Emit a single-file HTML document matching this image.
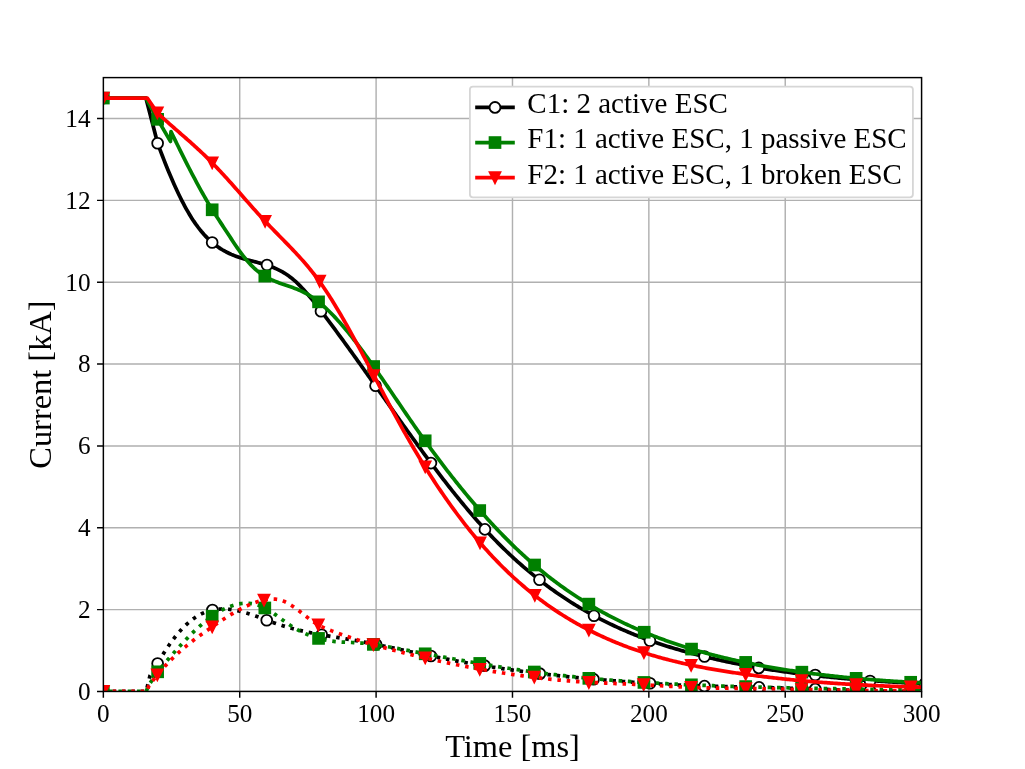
<!DOCTYPE html><html><head><meta charset="utf-8"><title>Current vs Time</title><style>html,body{margin:0;padding:0;background:#fff;overflow:hidden;width:1025px;height:769px;}svg{display:block;}text{font-family:"Liberation Serif","Times New Roman",serif;}</style></head><body>
<svg width="1025" height="769" viewBox="0 0 1025 769">
<rect x="0" y="0" width="1025" height="769" fill="#fff"/>
<defs><clipPath id="ax"><rect x="103.35" y="77.60" width="818.25" height="613.85"/></clipPath></defs>
<path d="M103.35,77.60V691.45M239.72,77.60V691.45M376.10,77.60V691.45M512.48,77.60V691.45M648.85,77.60V691.45M785.23,77.60V691.45M921.60,77.60V691.45M103.35,691.45H921.60M103.35,609.60H921.60M103.35,527.76H921.60M103.35,445.91H921.60M103.35,364.06H921.60M103.35,282.22H921.60M103.35,200.37H921.60M103.35,118.52H921.60" stroke="#b0b0b0" stroke-width="1.45" fill="none" stroke-linecap="square" clip-path="url(#ax)"/>
<g clip-path="url(#ax)">
<path d="M103.35,98.06L145.90,98.06L157.63,143.25L159.13,147.32L160.64,151.33L162.14,155.28L163.64,159.17L165.15,162.99L166.65,166.75L168.16,170.44L169.66,174.05L171.17,177.60L172.67,181.07L174.18,184.47L175.68,187.79L177.18,191.04L178.69,194.20L180.19,197.29L181.70,200.29L183.20,203.21L184.71,206.05L186.21,208.79L187.72,211.45L189.22,214.02L190.72,216.50L192.23,218.88L193.73,221.18L195.24,223.37L196.74,225.48L198.25,227.50L199.75,229.44L201.25,231.29L202.76,233.06L204.26,234.75L205.77,236.37L207.27,237.91L208.78,239.38L210.28,240.78L211.79,242.11L213.29,243.38L214.79,244.58L216.30,245.73L217.80,246.82L219.31,247.85L220.81,248.83L222.32,249.76L223.82,250.63L225.33,251.47L226.83,252.26L228.33,253.00L229.84,253.71L231.34,254.38L232.85,255.01L234.35,255.61L235.86,256.18L237.36,256.73L238.87,257.25L240.37,257.74L241.87,258.21L243.38,258.67L244.88,259.10L246.39,259.53L247.89,259.94L249.40,260.34L250.90,260.73L252.40,261.13L253.91,261.52L255.41,261.91L256.92,262.30L258.42,262.70L259.93,263.11L261.43,263.53L262.94,263.96L264.44,264.41L265.94,264.88L267.45,265.36L268.95,265.88L270.46,266.41L271.96,266.98L273.47,267.58L274.97,268.21L276.48,268.87L277.98,269.58L279.48,270.33L280.99,271.12L282.49,271.95L284.00,272.84L285.50,273.77L287.01,274.76L288.51,275.81L290.01,276.91L291.52,278.07L293.02,279.30L294.53,280.60L296.03,281.95L297.54,283.37L299.04,284.85L300.55,286.38L302.05,287.96L303.55,289.59L305.06,291.26L306.56,292.98L308.07,294.73L309.57,296.52L311.08,298.34L312.58,300.19L314.09,302.07L315.59,303.97L317.09,305.89L318.60,307.82L320.10,309.77L321.61,311.74L323.11,313.70L324.62,315.68L326.12,317.67L327.62,319.66L329.13,321.66L330.63,323.67L332.14,325.68L333.64,327.70L335.15,329.73L336.65,331.77L338.16,333.81L339.66,335.86L341.16,337.91L342.67,339.97L344.17,342.03L345.68,344.10L347.18,346.18L348.69,348.25L350.19,350.34L351.70,352.43L353.20,354.52L354.70,356.61L356.21,358.71L357.71,360.82L359.22,362.92L360.72,365.03L362.23,367.15L363.73,369.26L365.23,371.38L366.74,373.50L368.24,375.62L369.75,377.74L371.25,379.87L372.76,381.99L374.26,384.12L375.77,386.25L377.27,388.38L378.77,390.51L380.28,392.64L381.78,394.77L383.29,396.90L384.79,399.02L386.30,401.15L387.80,403.28L389.31,405.41L390.81,407.53L392.31,409.65L393.82,411.78L395.32,413.90L396.83,416.01L398.33,418.13L399.84,420.24L401.34,422.35L402.85,424.46L404.35,426.56L405.85,428.66L407.36,430.76L408.86,432.86L410.37,434.94L411.87,437.03L413.38,439.11L414.88,441.19L416.38,443.26L417.89,445.33L419.39,447.39L420.90,449.44L422.40,451.50L423.91,453.54L425.41,455.58L426.92,457.61L428.42,459.64L429.92,461.66L431.43,463.67L432.93,465.68L434.44,467.68L435.94,469.67L437.45,471.66L438.95,473.63L440.46,475.60L441.96,477.56L443.46,479.51L444.97,481.46L446.47,483.39L447.98,485.32L449.48,487.24L450.99,489.14L452.49,491.04L453.99,492.93L455.50,494.81L457.00,496.68L458.51,498.54L460.01,500.38L461.52,502.22L463.02,504.05L464.53,505.86L466.03,507.66L467.53,509.46L469.04,511.24L470.54,513.00L472.05,514.76L473.55,516.50L475.06,518.24L476.56,519.95L478.07,521.66L479.57,523.35L481.07,525.03L482.58,526.70L484.08,528.35L485.59,529.99L487.09,531.61L488.60,533.22L490.10,534.82L491.60,536.40L493.11,537.97L494.61,539.52L496.12,541.06L497.62,542.59L499.13,544.10L500.63,545.61L502.14,547.09L503.64,548.57L505.14,550.03L506.65,551.48L508.15,552.91L509.66,554.33L511.16,555.74L512.67,557.14L514.17,558.53L515.68,559.90L517.18,561.26L518.68,562.60L520.19,563.94L521.69,565.26L523.20,566.57L524.70,567.86L526.21,569.15L527.71,570.42L529.21,571.68L530.72,572.93L532.22,574.17L533.73,575.40L535.23,576.61L536.74,577.81L538.24,579.01L539.75,580.19L541.25,581.35L542.75,582.51L544.26,583.66L545.76,584.79L547.27,585.91L548.77,587.03L550.28,588.13L551.78,589.22L553.29,590.30L554.79,591.37L556.29,592.43L557.80,593.48L559.30,594.51L560.81,595.54L562.31,596.56L563.82,597.57L565.32,598.56L566.82,599.55L568.33,600.52L569.83,601.49L571.34,602.45L572.84,603.39L574.35,604.33L575.85,605.26L577.36,606.18L578.86,607.08L580.36,607.98L581.87,608.87L583.37,609.75L584.88,610.62L586.38,611.49L587.89,612.34L589.39,613.18L590.90,614.02L592.40,614.84L593.90,615.66L595.41,616.47L596.91,617.27L598.42,618.06L599.92,618.84L601.43,619.61L602.93,620.38L604.44,621.14L605.94,621.89L607.44,622.63L608.95,623.36L610.45,624.09L611.96,624.80L613.46,625.51L614.97,626.21L616.47,626.91L617.97,627.59L619.48,628.27L620.98,628.94L622.49,629.60L623.99,630.26L625.50,630.91L627.00,631.55L628.51,632.19L630.01,632.81L631.51,633.43L633.02,634.05L634.52,634.65L636.03,635.25L637.53,635.85L639.04,636.43L640.54,637.01L642.05,637.59L643.55,638.15L645.05,638.72L646.56,639.27L648.06,639.82L649.57,640.36L651.07,640.90L652.58,641.43L654.08,641.95L655.58,642.47L657.09,642.98L658.59,643.49L660.10,643.99L661.60,644.49L663.11,644.98L664.61,645.46L666.12,645.94L667.62,646.41L669.12,646.88L670.63,647.35L672.13,647.81L673.64,648.26L675.14,648.71L676.65,649.15L678.15,649.59L679.66,650.03L681.16,650.46L682.66,650.89L684.17,651.31L685.67,651.72L687.18,652.14L688.68,652.54L690.19,652.95L691.69,653.35L693.19,653.74L694.70,654.14L696.20,654.53L697.71,654.91L699.21,655.29L700.72,655.67L702.22,656.04L703.73,656.41L705.23,656.78L706.73,657.14L708.24,657.50L709.74,657.86L711.25,658.21L712.75,658.56L714.26,658.91L715.76,659.25L717.27,659.59L718.77,659.92L720.27,660.26L721.78,660.59L723.28,660.91L724.79,661.24L726.29,661.56L727.80,661.88L729.30,662.19L730.80,662.50L732.31,662.81L733.81,663.12L735.32,663.42L736.82,663.72L738.33,664.01L739.83,664.31L741.34,664.60L742.84,664.88L744.34,665.17L745.85,665.45L747.35,665.73L748.86,666.00L750.36,666.28L751.87,666.55L753.37,666.81L754.88,667.08L756.38,667.34L757.88,667.60L759.39,667.85L760.89,668.11L762.40,668.36L763.90,668.61L765.41,668.85L766.91,669.09L768.42,669.33L769.92,669.57L771.42,669.81L772.93,670.04L774.43,670.27L775.94,670.50L777.44,670.72L778.95,670.94L780.45,671.16L781.95,671.38L783.46,671.60L784.96,671.81L786.47,672.02L787.97,672.23L789.48,672.43L790.98,672.64L792.49,672.84L793.99,673.04L795.49,673.23L797.00,673.43L798.50,673.62L800.01,673.81L801.51,674.00L803.02,674.18L804.52,674.36L806.03,674.55L807.53,674.72L809.03,674.90L810.54,675.08L812.04,675.25L813.55,675.42L815.05,675.59L816.56,675.75L818.06,675.92L819.56,676.08L821.07,676.24L822.57,676.40L824.08,676.56L825.58,676.71L827.09,676.87L828.59,677.02L830.10,677.17L831.60,677.31L833.10,677.46L834.61,677.60L836.11,677.75L837.62,677.89L839.12,678.03L840.63,678.16L842.13,678.30L843.64,678.43L845.14,678.57L846.64,678.70L848.15,678.83L849.65,678.95L851.16,679.08L852.66,679.20L854.17,679.33L855.67,679.45L857.17,679.57L858.68,679.69L860.18,679.80L861.69,679.92L863.19,680.03L864.70,680.14L866.20,680.26L867.71,680.37L869.21,680.47L870.71,680.58L872.22,680.69L873.72,680.79L875.23,680.90L876.73,681.00L878.24,681.10L879.74,681.20L881.25,681.30L882.75,681.40L884.25,681.49L885.76,681.59L887.26,681.68L888.77,681.78L890.27,681.87L891.78,681.96L893.28,682.05L894.78,682.14L896.29,682.23L897.79,682.31L899.30,682.40L900.80,682.48L902.31,682.57L903.81,682.65L905.32,682.73L906.82,682.82L908.32,682.90L909.83,682.98L911.33,683.06L912.84,683.13L914.34,683.21L915.85,683.29L917.35,683.37L918.86,683.44L920.36,683.52L921.86,683.59L923.37,683.66L924.87,683.74" fill="none" stroke="#000000" stroke-width="3.72" stroke-linejoin="round" stroke-linecap="square"/>
<g fill="#fff" stroke="#000000" stroke-width="1.81"><circle cx="103.35" cy="98.06" r="5.43"/><circle cx="157.63" cy="143.28" r="5.43"/><circle cx="212.18" cy="242.52" r="5.43"/><circle cx="267.00" cy="265.03" r="5.43"/><circle cx="321.00" cy="311.27" r="5.43"/><circle cx="375.55" cy="385.75" r="5.43"/><circle cx="430.92" cy="463.10" r="5.43"/><circle cx="484.93" cy="529.39" r="5.43"/><circle cx="539.48" cy="579.73" r="5.43"/><circle cx="594.03" cy="615.74" r="5.43"/><circle cx="649.94" cy="640.71" r="5.43"/><circle cx="704.49" cy="656.50" r="5.43"/><circle cx="758.77" cy="667.92" r="5.43"/><circle cx="815.23" cy="675.08" r="5.43"/><circle cx="870.05" cy="681.01" r="5.43"/><circle cx="924.87" cy="683.67" r="5.43"/></g>
<path d="M103.35,691.45L146.17,691.45L149.99,675.69L157.63,663.52L159.13,660.88L160.64,658.30L162.14,655.79L163.65,653.35L165.16,650.97L166.66,648.66L168.17,646.42L169.67,644.24L171.18,642.13L172.68,640.09L174.19,638.11L175.70,636.20L177.20,634.35L178.71,632.57L180.21,630.86L181.72,629.22L183.22,627.64L184.73,626.13L186.24,624.69L187.74,623.31L189.25,622.00L190.75,620.76L192.26,619.58L193.76,618.47L195.27,617.43L196.78,616.46L198.28,615.55L199.79,614.71L201.29,613.93L202.80,613.22L204.30,612.57L205.81,611.98L207.32,611.44L208.82,610.96L210.33,610.54L211.83,610.17L213.34,609.86L214.84,609.59L216.35,609.38L217.86,609.21L219.36,609.09L220.87,609.01L222.37,608.97L223.88,608.98L225.39,609.03L226.89,609.11L228.40,609.23L229.90,609.39L231.41,609.58L232.91,609.80L234.42,610.06L235.93,610.34L237.43,610.65L238.94,610.99L240.44,611.35L241.95,611.73L243.45,612.14L244.96,612.57L246.47,613.01L247.97,613.48L249.48,613.95L250.98,614.45L252.49,614.95L253.99,615.47L255.50,616.00L257.01,616.54L258.51,617.08L260.02,617.63L261.52,618.19L263.03,618.75L264.53,619.31L266.04,619.87L267.55,620.43L269.05,620.99L270.56,621.54L272.06,622.09L273.57,622.63L275.07,623.17L276.58,623.69L278.09,624.21L279.59,624.71L281.10,625.20L282.60,625.68L284.11,626.15L285.61,626.60L287.12,627.05L288.63,627.48L290.13,627.90L291.64,628.31L293.14,628.71L294.65,629.10L296.15,629.48L297.66,629.86L299.17,630.22L300.67,630.57L302.18,630.92L303.68,631.26L305.19,631.59L306.69,631.91L308.20,632.23L309.71,632.54L311.21,632.84L312.72,633.14L314.22,633.43L315.73,633.72L317.23,634.00L318.74,634.27L320.25,634.55L321.75,634.82L323.26,635.08L324.76,635.34L326.27,635.60L327.77,635.86L329.28,636.11L330.79,636.36L332.29,636.61L333.80,636.86L335.30,637.11L336.81,637.36L338.31,637.60L339.82,637.85L341.33,638.10L342.83,638.34L344.34,638.59L345.84,638.84L347.35,639.10L348.85,639.35L350.36,639.60L351.87,639.86L353.37,640.12L354.88,640.39L356.38,640.66L357.89,640.93L359.39,641.20L360.90,641.48L362.41,641.76L363.91,642.05L365.42,642.33L366.92,642.62L368.43,642.91L369.94,643.21L371.44,643.50L372.95,643.80L374.45,644.10L375.96,644.40L377.46,644.71L378.97,645.02L380.48,645.32L381.98,645.63L383.49,645.95L384.99,646.26L386.50,646.57L388.00,646.89L389.51,647.20L391.02,647.52L392.52,647.84L394.03,648.16L395.53,648.48L397.04,648.80L398.54,649.12L400.05,649.45L401.56,649.77L403.06,650.09L404.57,650.41L406.07,650.73L407.58,651.06L409.08,651.38L410.59,651.70L412.10,652.02L413.60,652.34L415.11,652.67L416.61,652.98L418.12,653.30L419.62,653.62L421.13,653.94L422.64,654.26L424.14,654.57L425.65,654.88L427.15,655.20L428.66,655.51L430.16,655.82L431.67,656.12L433.18,656.43L434.68,656.73L436.19,657.04L437.69,657.34L439.20,657.64L440.70,657.93L442.21,658.23L443.72,658.52L445.22,658.81L446.73,659.10L448.23,659.39L449.74,659.68L451.24,659.96L452.75,660.25L454.26,660.53L455.76,660.81L457.27,661.08L458.77,661.36L460.28,661.63L461.78,661.91L463.29,662.18L464.80,662.45L466.30,662.71L467.81,662.98L469.31,663.24L470.82,663.51L472.32,663.77L473.83,664.02L475.34,664.28L476.84,664.54L478.35,664.79L479.85,665.04L481.36,665.29L482.86,665.54L484.37,665.78L485.88,666.03L487.38,666.27L488.89,666.51L490.39,666.75L491.90,666.99L493.40,667.22L494.91,667.46L496.42,667.69L497.92,667.92L499.43,668.15L500.93,668.38L502.44,668.60L503.95,668.82L505.45,669.05L506.96,669.27L508.46,669.48L509.97,669.70L511.47,669.91L512.98,670.13L514.49,670.34L515.99,670.55L517.50,670.75L519.00,670.96L520.51,671.16L522.01,671.37L523.52,671.57L525.03,671.76L526.53,671.96L528.04,672.16L529.54,672.35L531.05,672.54L532.55,672.73L534.06,672.92L535.57,673.11L537.07,673.29L538.58,673.47L540.08,673.66L541.59,673.84L543.09,674.01L544.60,674.19L546.11,674.37L547.61,674.54L549.12,674.71L550.62,674.88L552.13,675.05L553.63,675.22L555.14,675.39L556.65,675.55L558.15,675.71L559.66,675.87L561.16,676.04L562.67,676.19L564.17,676.35L565.68,676.51L567.19,676.66L568.69,676.81L570.20,676.97L571.70,677.12L573.21,677.26L574.71,677.41L576.22,677.56L577.73,677.70L579.23,677.85L580.74,677.99L582.24,678.13L583.75,678.27L585.25,678.41L586.76,678.54L588.27,678.68L589.77,678.82L591.28,678.95L592.78,679.08L594.29,679.21L595.79,679.34L597.30,679.47L598.81,679.60L600.31,679.72L601.82,679.85L603.32,679.97L604.83,680.10L606.33,680.22L607.84,680.34L609.35,680.46L610.85,680.58L612.36,680.70L613.86,680.81L615.37,680.93L616.87,681.04L618.38,681.16L619.89,681.27L621.39,681.38L622.90,681.49L624.40,681.60L625.91,681.71L627.41,681.82L628.92,681.93L630.43,682.03L631.93,682.14L633.44,682.24L634.94,682.35L636.45,682.45L637.95,682.55L639.46,682.65L640.97,682.75L642.47,682.85L643.98,682.95L645.48,683.05L646.99,683.14L648.50,683.24L650.00,683.34L651.51,683.43L653.01,683.53L654.52,683.62L656.02,683.71L657.53,683.80L659.04,683.90L660.54,683.99L662.05,684.07L663.55,684.16L665.06,684.25L666.56,684.34L668.07,684.42L669.58,684.51L671.08,684.59L672.59,684.67L674.09,684.75L675.60,684.83L677.10,684.91L678.61,684.99L680.12,685.06L681.62,685.14L683.13,685.21L684.63,685.28L686.14,685.35L687.64,685.42L689.15,685.49L690.66,685.56L692.16,685.62L693.67,685.69L695.17,685.75L696.68,685.81L698.18,685.87L699.69,685.92L701.20,685.98L702.70,686.03L704.21,686.08L705.71,686.13L707.22,686.18L708.72,686.23L710.23,686.28L711.74,686.32L713.24,686.36L714.75,686.40L716.25,686.44L717.76,686.48L719.26,686.52L720.77,686.56L722.28,686.59L723.78,686.63L725.29,686.66L726.79,686.70L728.30,686.73L729.80,686.76L731.31,686.79L732.82,686.82L734.32,686.85L735.83,686.89L737.33,686.92L738.84,686.95L740.34,686.98L741.85,687.01L743.36,687.04L744.86,687.07L746.37,687.10L747.87,687.13L749.38,687.16L750.88,687.19L752.39,687.22L753.90,687.25L755.40,687.29L756.91,687.32L758.41,687.35L759.92,687.39L761.42,687.43L762.93,687.46L764.44,687.50L765.94,687.54L767.45,687.58L768.95,687.62L770.46,687.66L771.96,687.70L773.47,687.74L774.98,687.79L776.48,687.83L777.99,687.87L779.49,687.92L781.00,687.96L782.50,688.01L784.01,688.05L785.52,688.10L787.02,688.15L788.53,688.20L790.03,688.24L791.54,688.29L793.05,688.34L794.55,688.39L796.06,688.44L797.56,688.49L799.07,688.54L800.57,688.59L802.08,688.63L803.59,688.68L805.09,688.73L806.60,688.78L808.10,688.84L809.61,688.89L811.11,688.94L812.62,688.99L814.13,689.04L815.63,689.09L817.14,689.14L818.64,689.19L820.15,689.24L821.65,689.29L823.16,689.34L824.67,689.39L826.17,689.43L827.68,689.48L829.18,689.53L830.69,689.58L832.19,689.63L833.70,689.68L835.21,689.73L836.71,689.77L838.22,689.82L839.72,689.87L841.23,689.91L842.73,689.96L844.24,690.01L845.75,690.05L847.25,690.10L848.76,690.14L850.26,690.18L851.77,690.23L853.27,690.27L854.78,690.31L856.29,690.36L857.79,690.40L859.30,690.44L860.80,690.48L862.31,690.52L863.81,690.56L865.32,690.60L866.83,690.63L868.33,690.67L869.84,690.71L871.34,690.75L872.85,690.78L874.35,690.82L875.86,690.85L877.37,690.88L878.87,690.91L880.38,690.95L881.88,690.98L883.39,691.01L884.89,691.04L886.40,691.07L887.91,691.09L889.41,691.12L890.92,691.14L892.42,691.17L893.93,691.19L895.43,691.22L896.94,691.24L898.45,691.26L899.95,691.28L901.46,691.30L902.96,691.32L904.47,691.33L905.97,691.35L907.48,691.36L908.99,691.38L910.49,691.39L912.00,691.40L913.50,691.41L915.01,691.42L916.51,691.43L918.02,691.44L919.53,691.44L921.03,691.45L922.54,691.45L924.04,691.45L925.55,691.45L927.06,691.45" fill="none" stroke="#000000" stroke-width="3.72" stroke-dasharray="3.52 5.81" stroke-dashoffset="0.00" stroke-linejoin="round" stroke-linecap="butt"/>
<g fill="#fff" stroke="#000000" stroke-width="1.81"><circle cx="103.35" cy="691.45" r="5.43"/><circle cx="157.63" cy="663.50" r="5.43"/><circle cx="212.45" cy="610.01" r="5.43"/><circle cx="266.73" cy="620.24" r="5.43"/><circle cx="321.69" cy="634.77" r="5.43"/><circle cx="376.10" cy="644.39" r="5.43"/><circle cx="430.92" cy="656.01" r="5.43"/><circle cx="484.65" cy="665.67" r="5.43"/><circle cx="539.89" cy="673.65" r="5.43"/><circle cx="593.48" cy="679.17" r="5.43"/><circle cx="649.94" cy="683.27" r="5.43"/><circle cx="704.49" cy="686.13" r="5.43"/><circle cx="759.04" cy="687.36" r="5.43"/><circle cx="815.23" cy="689.08" r="5.43"/><circle cx="870.05" cy="690.71" r="5.43"/><circle cx="924.87" cy="691.45" r="5.43"/></g>
<path d="M103.35,98.06L145.90,98.06L157.63,119.34L170.45,141.44L170.99,131.64L172.50,134.74L174.00,137.83L175.50,140.92L177.00,143.99L178.51,147.05L180.01,150.09L181.51,153.12L183.02,156.13L184.52,159.13L186.02,162.11L187.53,165.06L189.03,168.00L190.53,170.91L192.04,173.80L193.54,176.66L195.04,179.49L196.54,182.30L198.05,185.08L199.55,187.83L201.05,190.55L202.56,193.23L204.06,195.88L205.56,198.50L207.07,201.07L208.57,203.61L210.07,206.11L211.58,208.57L213.08,210.99L214.58,213.37L216.09,215.72L217.59,218.04L219.09,220.34L220.59,222.62L222.10,224.90L223.60,227.17L225.10,229.45L226.61,231.73L228.11,234.03L229.61,236.33L231.12,238.64L232.62,240.93L234.12,243.21L235.63,245.45L237.13,247.65L238.63,249.80L240.13,251.88L241.64,253.91L243.14,255.87L244.64,257.76L246.15,259.59L247.65,261.34L249.15,263.03L250.66,264.64L252.16,266.18L253.66,267.64L255.17,269.02L256.67,270.32L258.17,271.54L259.68,272.70L261.18,273.79L262.68,274.81L264.18,275.77L265.69,276.68L267.19,277.53L268.69,278.33L270.20,279.09L271.70,279.81L273.20,280.49L274.71,281.14L276.21,281.75L277.71,282.34L279.22,282.91L280.72,283.46L282.22,283.99L283.73,284.51L285.23,285.02L286.73,285.53L288.23,286.04L289.74,286.56L291.24,287.08L292.74,287.61L294.25,288.16L295.75,288.72L297.25,289.31L298.76,289.93L300.26,290.57L301.76,291.25L303.27,291.97L304.77,292.73L306.27,293.53L307.77,294.38L309.28,295.28L310.78,296.23L312.28,297.22L313.79,298.26L315.29,299.35L316.79,300.48L318.30,301.65L319.80,302.87L321.30,304.12L322.81,305.42L324.31,306.76L325.81,308.13L327.32,309.54L328.82,310.99L330.32,312.47L331.82,313.99L333.33,315.54L334.83,317.12L336.33,318.74L337.84,320.39L339.34,322.06L340.84,323.76L342.35,325.50L343.85,327.25L345.35,329.04L346.86,330.85L348.36,332.68L349.86,334.54L351.36,336.42L352.87,338.32L354.37,340.24L355.87,342.19L357.38,344.15L358.88,346.13L360.38,348.13L361.89,350.15L363.39,352.18L364.89,354.24L366.40,356.30L367.90,358.38L369.40,360.48L370.91,362.58L372.41,364.70L373.91,366.83L375.41,368.97L376.92,371.13L378.42,373.29L379.92,375.46L381.43,377.63L382.93,379.82L384.43,382.01L385.94,384.20L387.44,386.40L388.94,388.61L390.45,390.81L391.95,393.02L393.45,395.24L394.95,397.45L396.46,399.66L397.96,401.87L399.46,404.08L400.97,406.29L402.47,408.50L403.97,410.70L405.48,412.90L406.98,415.09L408.48,417.28L409.99,419.46L411.49,421.64L412.99,423.80L414.50,425.96L416.00,428.11L417.50,430.24L419.00,432.37L420.51,434.49L422.01,436.61L423.51,438.71L425.02,440.80L426.52,442.88L428.02,444.96L429.53,447.02L431.03,449.08L432.53,451.12L434.04,453.16L435.54,455.18L437.04,457.20L438.55,459.20L440.05,461.20L441.55,463.19L443.05,465.16L444.56,467.13L446.06,469.09L447.56,471.03L449.07,472.97L450.57,474.90L452.07,476.81L453.58,478.72L455.08,480.62L456.58,482.50L458.09,484.38L459.59,486.24L461.09,488.10L462.59,489.94L464.10,491.78L465.60,493.60L467.10,495.41L468.61,497.21L470.11,499.01L471.61,500.79L473.12,502.56L474.62,504.31L476.12,506.06L477.63,507.80L479.13,509.53L480.63,511.24L482.14,512.94L483.64,514.64L485.14,516.32L486.64,517.99L488.15,519.65L489.65,521.30L491.15,522.93L492.66,524.56L494.16,526.17L495.66,527.78L497.17,529.37L498.67,530.95L500.17,532.51L501.68,534.07L503.18,535.61L504.68,537.15L506.18,538.67L507.69,540.18L509.19,541.67L510.69,543.16L512.20,544.63L513.70,546.09L515.20,547.54L516.71,548.98L518.21,550.41L519.71,551.82L521.22,553.22L522.72,554.61L524.22,555.98L525.73,557.35L527.23,558.70L528.73,560.04L530.23,561.36L531.74,562.68L533.24,563.98L534.74,565.27L536.25,566.54L537.75,567.81L539.25,569.06L540.76,570.30L542.26,571.53L543.76,572.75L545.27,573.96L546.77,575.15L548.27,576.34L549.78,577.51L551.28,578.67L552.78,579.82L554.28,580.96L555.79,582.08L557.29,583.20L558.79,584.30L560.30,585.40L561.80,586.48L563.30,587.56L564.81,588.62L566.31,589.67L567.81,590.72L569.32,591.75L570.82,592.77L572.32,593.78L573.82,594.78L575.33,595.78L576.83,596.76L578.33,597.73L579.84,598.69L581.34,599.65L582.84,600.59L584.35,601.53L585.85,602.45L587.35,603.37L588.86,604.28L590.36,605.17L591.86,606.06L593.37,606.95L594.87,607.82L596.37,608.68L597.87,609.53L599.38,610.38L600.88,611.22L602.38,612.05L603.89,612.87L605.39,613.68L606.89,614.49L608.40,615.29L609.90,616.08L611.40,616.86L612.91,617.63L614.41,618.40L615.91,619.16L617.41,619.91L618.92,620.65L620.42,621.39L621.92,622.12L623.43,622.84L624.93,623.56L626.43,624.27L627.94,624.97L629.44,625.66L630.94,626.35L632.45,627.03L633.95,627.71L635.45,628.37L636.96,629.04L638.46,629.69L639.96,630.34L641.46,630.98L642.97,631.61L644.47,632.24L645.97,632.87L647.48,633.48L648.98,634.09L650.48,634.70L651.99,635.29L653.49,635.88L654.99,636.47L656.50,637.05L658.00,637.62L659.50,638.19L661.00,638.75L662.51,639.31L664.01,639.86L665.51,640.40L667.02,640.94L668.52,641.48L670.02,642.00L671.53,642.52L673.03,643.04L674.53,643.55L676.04,644.06L677.54,644.56L679.04,645.06L680.55,645.55L682.05,646.03L683.55,646.51L685.05,646.99L686.56,647.46L688.06,647.92L689.56,648.38L691.07,648.84L692.57,649.29L694.07,649.73L695.58,650.17L697.08,650.61L698.58,651.04L700.09,651.47L701.59,651.89L703.09,652.31L704.60,652.72L706.10,653.13L707.60,653.54L709.10,653.94L710.61,654.33L712.11,654.73L713.61,655.12L715.12,655.50L716.62,655.88L718.12,656.26L719.63,656.63L721.13,657.00L722.63,657.36L724.14,657.72L725.64,658.08L727.14,658.43L728.64,658.78L730.15,659.13L731.65,659.47L733.15,659.81L734.66,660.15L736.16,660.48L737.66,660.81L739.17,661.14L740.67,661.46L742.17,661.78L743.68,662.09L745.18,662.41L746.68,662.72L748.19,663.02L749.69,663.33L751.19,663.63L752.69,663.93L754.20,664.22L755.70,664.52L757.20,664.81L758.71,665.09L760.21,665.38L761.71,665.66L763.22,665.94L764.72,666.21L766.22,666.48L767.73,666.75L769.23,667.02L770.73,667.29L772.23,667.55L773.74,667.81L775.24,668.06L776.74,668.32L778.25,668.57L779.75,668.82L781.25,669.06L782.76,669.30L784.26,669.54L785.76,669.78L787.27,670.02L788.77,670.25L790.27,670.48L791.78,670.71L793.28,670.93L794.78,671.16L796.28,671.38L797.79,671.59L799.29,671.81L800.79,672.02L802.30,672.23L803.80,672.44L805.30,672.65L806.81,672.85L808.31,673.05L809.81,673.25L811.32,673.45L812.82,673.64L814.32,673.83L815.83,674.02L817.33,674.21L818.83,674.40L820.33,674.58L821.84,674.76L823.34,674.94L824.84,675.12L826.35,675.29L827.85,675.47L829.35,675.64L830.86,675.80L832.36,675.97L833.86,676.14L835.37,676.30L836.87,676.46L838.37,676.62L839.87,676.77L841.38,676.93L842.88,677.08L844.38,677.23L845.89,677.38L847.39,677.53L848.89,677.67L850.40,677.82L851.90,677.96L853.40,678.10L854.91,678.23L856.41,678.37L857.91,678.50L859.42,678.64L860.92,678.77L862.42,678.90L863.92,679.02L865.43,679.15L866.93,679.27L868.43,679.40L869.94,679.52L871.44,679.64L872.94,679.75L874.45,679.87L875.95,679.99L877.45,680.10L878.96,680.21L880.46,680.32L881.96,680.43L883.46,680.54L884.97,680.64L886.47,680.75L887.97,680.85L889.48,680.95L890.98,681.05L892.48,681.15L893.99,681.24L895.49,681.34L896.99,681.44L898.50,681.53L900.00,681.62L901.50,681.71L903.01,681.80L904.51,681.89L906.01,681.98L907.51,682.06L909.02,682.15L910.52,682.23L912.02,682.31L913.53,682.39L915.03,682.47L916.53,682.55L918.04,682.63L919.54,682.71L921.04,682.78L922.55,682.86L924.05,682.93L925.55,683.00L927.06,683.08" fill="none" stroke="#008000" stroke-width="3.72" stroke-linejoin="round" stroke-linecap="square"/>
<g fill="#008000" stroke="#008000" stroke-width="1.81" stroke-linejoin="miter"><rect x="97.92" y="92.63" width="10.86" height="10.86"/><rect x="152.20" y="113.91" width="10.86" height="10.86"/><rect x="206.75" y="204.35" width="10.86" height="10.86"/><rect x="259.39" y="270.65" width="10.86" height="10.86"/><rect x="313.12" y="296.43" width="10.86" height="10.86"/><rect x="368.22" y="361.09" width="10.86" height="10.86"/><rect x="419.77" y="435.36" width="10.86" height="10.86"/><rect x="474.31" y="505.14" width="10.86" height="10.86"/><rect x="529.14" y="559.57" width="10.86" height="10.86"/><rect x="583.42" y="598.69" width="10.86" height="10.86"/><rect x="638.78" y="626.80" width="10.86" height="10.86"/><rect x="686.11" y="643.66" width="10.86" height="10.86"/><rect x="740.25" y="656.96" width="10.86" height="10.86"/><rect x="796.43" y="666.75" width="10.86" height="10.86"/><rect x="850.71" y="672.92" width="10.86" height="10.86"/><rect x="905.26" y="676.85" width="10.86" height="10.86"/></g>
<path d="M103.35,691.45L146.17,691.45L148.63,685.31L157.63,671.82L159.13,670.01L160.64,668.21L162.14,666.41L163.65,664.63L165.16,662.84L166.66,661.07L168.17,659.31L169.67,657.56L171.18,655.82L172.68,654.09L174.19,652.37L175.70,650.67L177.20,648.99L178.71,647.32L180.21,645.67L181.72,644.03L183.22,642.42L184.73,640.82L186.24,639.24L187.74,637.69L189.25,636.16L190.75,634.65L192.26,633.16L193.76,631.70L195.27,630.27L196.78,628.86L198.28,627.48L199.79,626.13L201.29,624.81L202.80,623.52L204.30,622.26L205.81,621.03L207.32,619.83L208.82,618.67L210.33,617.54L211.83,616.45L213.34,615.40L214.84,614.38L216.35,613.41L217.86,612.47L219.36,611.57L220.87,610.71L222.37,609.89L223.88,609.12L225.39,608.39L226.89,607.71L228.40,607.07L229.90,606.48L231.41,605.93L232.91,605.44L234.42,604.99L235.93,604.59L237.43,604.25L238.94,603.95L240.44,603.71L241.95,603.52L243.45,603.39L244.96,603.31L246.47,603.29L247.97,603.33L249.48,603.42L250.98,603.57L252.49,603.78L253.99,604.06L255.50,604.39L257.01,604.79L258.51,605.25L260.02,605.78L261.52,606.37L263.03,607.03L264.53,607.75L266.04,608.54L267.55,609.40L269.05,610.31L270.56,611.27L272.06,612.27L273.57,613.31L275.07,614.38L276.58,615.47L278.09,616.58L279.59,617.69L281.10,618.81L282.60,619.93L284.11,621.03L285.61,622.12L287.12,623.19L288.63,624.22L290.13,625.22L291.64,626.19L293.14,627.13L294.65,628.04L296.15,628.92L297.66,629.76L299.17,630.58L300.67,631.36L302.18,632.11L303.68,632.83L305.19,633.53L306.69,634.19L308.20,634.82L309.71,635.42L311.21,636.00L312.72,636.54L314.22,637.06L315.73,637.55L317.23,638.01L318.74,638.45L320.25,638.86L321.75,639.24L323.26,639.59L324.76,639.92L326.27,640.22L327.77,640.50L329.28,640.76L330.79,640.98L332.29,641.19L333.80,641.37L335.30,641.53L336.81,641.67L338.31,641.80L339.82,641.91L341.33,642.01L342.83,642.10L344.34,642.17L345.84,642.25L347.35,642.31L348.85,642.38L350.36,642.44L351.87,642.51L353.37,642.57L354.88,642.65L356.38,642.73L357.89,642.82L359.39,642.91L360.90,643.03L362.41,643.15L363.91,643.29L365.42,643.44L366.92,643.60L368.43,643.77L369.94,643.95L371.44,644.14L372.95,644.35L374.45,644.55L375.96,644.77L377.46,645.00L378.97,645.23L380.48,645.47L381.98,645.72L383.49,645.97L384.99,646.23L386.50,646.49L388.00,646.75L389.51,647.02L391.02,647.29L392.52,647.57L394.03,647.84L395.53,648.12L397.04,648.40L398.54,648.68L400.05,648.96L401.56,649.24L403.06,649.52L404.57,649.81L406.07,650.09L407.58,650.37L409.08,650.65L410.59,650.93L412.10,651.21L413.60,651.49L415.11,651.78L416.61,652.06L418.12,652.34L419.62,652.62L421.13,652.90L422.64,653.19L424.14,653.47L425.65,653.75L427.15,654.03L428.66,654.31L430.16,654.59L431.67,654.87L433.18,655.15L434.68,655.43L436.19,655.71L437.69,655.99L439.20,656.27L440.70,656.55L442.21,656.83L443.72,657.11L445.22,657.38L446.73,657.66L448.23,657.94L449.74,658.21L451.24,658.49L452.75,658.76L454.26,659.04L455.76,659.31L457.27,659.58L458.77,659.85L460.28,660.13L461.78,660.40L463.29,660.67L464.80,660.93L466.30,661.20L467.81,661.47L469.31,661.74L470.82,662.00L472.32,662.27L473.83,662.53L475.34,662.79L476.84,663.06L478.35,663.32L479.85,663.58L481.36,663.83L482.86,664.09L484.37,664.35L485.88,664.60L487.38,664.86L488.89,665.11L490.39,665.36L491.90,665.61L493.40,665.86L494.91,666.11L496.42,666.36L497.92,666.60L499.43,666.84L500.93,667.09L502.44,667.33L503.95,667.57L505.45,667.81L506.96,668.04L508.46,668.28L509.97,668.51L511.47,668.74L512.98,668.97L514.49,669.20L515.99,669.43L517.50,669.65L519.00,669.88L520.51,670.10L522.01,670.32L523.52,670.54L525.03,670.75L526.53,670.97L528.04,671.18L529.54,671.39L531.05,671.60L532.55,671.81L534.06,672.01L535.57,672.22L537.07,672.42L538.58,672.62L540.08,672.81L541.59,673.01L543.09,673.20L544.60,673.39L546.11,673.58L547.61,673.77L549.12,673.96L550.62,674.14L552.13,674.32L553.63,674.50L555.14,674.68L556.65,674.86L558.15,675.03L559.66,675.21L561.16,675.38L562.67,675.55L564.17,675.71L565.68,675.88L567.19,676.04L568.69,676.21L570.20,676.37L571.70,676.53L573.21,676.68L574.71,676.84L576.22,676.99L577.73,677.15L579.23,677.30L580.74,677.45L582.24,677.59L583.75,677.74L585.25,677.89L586.76,678.03L588.27,678.17L589.77,678.31L591.28,678.45L592.78,678.59L594.29,678.72L595.79,678.85L597.30,678.99L598.81,679.12L600.31,679.25L601.82,679.38L603.32,679.50L604.83,679.63L606.33,679.75L607.84,679.87L609.35,680.00L610.85,680.11L612.36,680.23L613.86,680.35L615.37,680.47L616.87,680.58L618.38,680.69L619.89,680.81L621.39,680.92L622.90,681.03L624.40,681.13L625.91,681.24L627.41,681.35L628.92,681.45L630.43,681.55L631.93,681.66L633.44,681.76L634.94,681.86L636.45,681.96L637.95,682.05L639.46,682.15L640.97,682.25L642.47,682.34L643.98,682.43L645.48,682.53L646.99,682.62L648.50,682.71L650.00,682.80L651.51,682.88L653.01,682.97L654.52,683.06L656.02,683.14L657.53,683.23L659.04,683.31L660.54,683.39L662.05,683.47L663.55,683.55L665.06,683.63L666.56,683.71L668.07,683.79L669.58,683.86L671.08,683.94L672.59,684.01L674.09,684.09L675.60,684.16L677.10,684.23L678.61,684.30L680.12,684.37L681.62,684.44L683.13,684.51L684.63,684.58L686.14,684.64L687.64,684.71L689.15,684.78L690.66,684.84L692.16,684.90L693.67,684.97L695.17,685.03L696.68,685.09L698.18,685.15L699.69,685.21L701.20,685.27L702.70,685.33L704.21,685.39L705.71,685.44L707.22,685.50L708.72,685.56L710.23,685.61L711.74,685.67L713.24,685.72L714.75,685.77L716.25,685.83L717.76,685.88L719.26,685.93L720.77,685.98L722.28,686.03L723.78,686.08L725.29,686.13L726.79,686.18L728.30,686.22L729.80,686.27L731.31,686.32L732.82,686.36L734.32,686.41L735.83,686.45L737.33,686.50L738.84,686.54L740.34,686.59L741.85,686.63L743.36,686.67L744.86,686.71L746.37,686.76L747.87,686.80L749.38,686.84L750.88,686.88L752.39,686.92L753.90,686.96L755.40,687.00L756.91,687.04L758.41,687.08L759.92,687.11L761.42,687.15L762.93,687.19L764.44,687.23L765.94,687.26L767.45,687.30L768.95,687.33L770.46,687.37L771.96,687.41L773.47,687.44L774.98,687.48L776.48,687.51L777.99,687.54L779.49,687.58L781.00,687.61L782.50,687.65L784.01,687.68L785.52,687.71L787.02,687.75L788.53,687.78L790.03,687.81L791.54,687.84L793.05,687.88L794.55,687.91L796.06,687.94L797.56,687.97L799.07,688.00L800.57,688.04L802.08,688.07L803.59,688.10L805.09,688.13L806.60,688.16L808.10,688.19L809.61,688.22L811.11,688.25L812.62,688.28L814.13,688.31L815.63,688.35L817.14,688.38L818.64,688.41L820.15,688.44L821.65,688.47L823.16,688.50L824.67,688.53L826.17,688.56L827.68,688.59L829.18,688.62L830.69,688.65L832.19,688.68L833.70,688.70L835.21,688.73L836.71,688.76L838.22,688.79L839.72,688.82L841.23,688.85L842.73,688.88L844.24,688.91L845.75,688.94L847.25,688.97L848.76,689.00L850.26,689.02L851.77,689.05L853.27,689.08L854.78,689.11L856.29,689.14L857.79,689.17L859.30,689.20L860.80,689.22L862.31,689.25L863.81,689.28L865.32,689.31L866.83,689.34L868.33,689.37L869.84,689.39L871.34,689.42L872.85,689.45L874.35,689.48L875.86,689.51L877.37,689.53L878.87,689.56L880.38,689.59L881.88,689.62L883.39,689.64L884.89,689.67L886.40,689.70L887.91,689.73L889.41,689.76L890.92,689.78L892.42,689.81L893.93,689.84L895.43,689.87L896.94,689.89L898.45,689.92L899.95,689.95L901.46,689.98L902.96,690.00L904.47,690.03L905.97,690.06L907.48,690.09L908.99,690.11L910.49,690.14L912.00,690.17L913.50,690.20L915.01,690.22L916.51,690.25L918.02,690.28L919.53,690.31L921.03,690.33L922.54,690.36L924.04,690.39L925.55,690.42L927.06,690.44" fill="none" stroke="#008000" stroke-width="3.72" stroke-dasharray="3.52 5.81" stroke-dashoffset="3.63" stroke-linejoin="round" stroke-linecap="butt"/>
<g fill="#008000" stroke="#008000" stroke-width="1.81" stroke-linejoin="miter"><rect x="97.92" y="686.02" width="10.86" height="10.86"/><rect x="152.20" y="666.38" width="10.86" height="10.86"/><rect x="206.75" y="610.72" width="10.86" height="10.86"/><rect x="259.39" y="602.54" width="10.86" height="10.86"/><rect x="313.12" y="632.98" width="10.86" height="10.86"/><rect x="367.94" y="638.96" width="10.86" height="10.86"/><rect x="419.77" y="648.37" width="10.86" height="10.86"/><rect x="474.31" y="657.99" width="10.86" height="10.86"/><rect x="528.87" y="666.58" width="10.86" height="10.86"/><rect x="583.42" y="672.92" width="10.86" height="10.86"/><rect x="638.51" y="677.02" width="10.86" height="10.86"/><rect x="685.97" y="679.39" width="10.86" height="10.86"/><rect x="740.25" y="681.15" width="10.86" height="10.86"/><rect x="796.16" y="682.87" width="10.86" height="10.86"/><rect x="850.71" y="683.56" width="10.86" height="10.86"/><rect x="905.26" y="684.79" width="10.86" height="10.86"/></g>
<path d="M103.35,98.06L147.26,98.06L157.35,112.82L158.86,114.23L160.36,115.63L161.86,117.01L163.37,118.38L164.87,119.75L166.37,121.10L167.88,122.44L169.38,123.78L170.88,125.11L172.39,126.43L173.89,127.75L175.39,129.06L176.90,130.37L178.40,131.68L179.90,132.99L181.41,134.30L182.91,135.62L184.41,136.93L185.92,138.25L187.42,139.57L188.92,140.89L190.43,142.23L191.93,143.57L193.43,144.92L194.94,146.28L196.44,147.64L197.94,149.03L199.45,150.42L200.95,151.82L202.45,153.25L203.96,154.68L205.46,156.14L206.96,157.61L208.47,159.09L209.97,160.60L211.47,162.12L212.98,163.65L214.48,165.20L215.98,166.77L217.49,168.34L218.99,169.94L220.49,171.54L222.00,173.16L223.50,174.78L225.00,176.42L226.51,178.07L228.01,179.73L229.51,181.40L231.02,183.08L232.52,184.76L234.02,186.46L235.53,188.16L237.03,189.87L238.53,191.58L240.04,193.29L241.54,195.01L243.04,196.72L244.55,198.44L246.05,200.15L247.55,201.86L249.06,203.57L250.56,205.27L252.06,206.96L253.57,208.65L255.07,210.32L256.57,211.99L258.08,213.64L259.58,215.28L261.08,216.90L262.59,218.52L264.09,220.12L265.59,221.71L267.10,223.29L268.60,224.87L270.10,226.43L271.61,227.99L273.11,229.54L274.61,231.09L276.12,232.63L277.62,234.17L279.12,235.70L280.63,237.24L282.13,238.77L283.63,240.30L285.14,241.84L286.64,243.38L288.14,244.92L289.65,246.47L291.15,248.03L292.65,249.61L294.16,251.19L295.66,252.79L297.16,254.41L298.67,256.04L300.17,257.69L301.67,259.37L303.18,261.06L304.68,262.79L306.18,264.54L307.69,266.32L309.19,268.12L310.69,269.96L312.20,271.84L313.70,273.75L315.20,275.70L316.71,277.69L318.21,279.71L319.71,281.79L321.22,283.90L322.72,286.06L324.22,288.26L325.73,290.50L327.23,292.78L328.73,295.09L330.24,297.45L331.74,299.83L333.24,302.25L334.75,304.70L336.25,307.18L337.75,309.69L339.26,312.22L340.76,314.78L342.26,317.36L343.77,319.97L345.27,322.60L346.77,325.25L348.28,327.92L349.78,330.61L351.28,333.32L352.79,336.04L354.29,338.78L355.79,341.54L357.30,344.31L358.80,347.09L360.30,349.89L361.81,352.69L363.31,355.51L364.81,358.33L366.32,361.16L367.82,364.00L369.32,366.84L370.83,369.69L372.33,372.54L373.83,375.39L375.34,378.24L376.84,381.10L378.34,383.95L379.85,386.80L381.35,389.65L382.85,392.49L384.36,395.33L385.86,398.16L387.36,400.99L388.87,403.80L390.37,406.61L391.87,409.41L393.38,412.19L394.88,414.97L396.38,417.73L397.89,420.47L399.39,423.20L400.89,425.92L402.40,428.61L403.90,431.29L405.40,433.94L406.91,436.58L408.41,439.20L409.91,441.80L411.42,444.38L412.92,446.95L414.42,449.49L415.93,452.02L417.43,454.53L418.93,457.01L420.44,459.48L421.94,461.94L423.44,464.37L424.95,466.78L426.45,469.18L427.95,471.55L429.46,473.91L430.96,476.25L432.46,478.57L433.97,480.88L435.47,483.16L436.97,485.43L438.48,487.68L439.98,489.91L441.48,492.12L442.99,494.31L444.49,496.49L445.99,498.64L447.50,500.78L449.00,502.90L450.50,505.01L452.01,507.09L453.51,509.16L455.01,511.21L456.52,513.24L458.02,515.25L459.52,517.24L461.03,519.22L462.53,521.18L464.03,523.12L465.54,525.04L467.04,526.95L468.54,528.84L470.05,530.71L471.55,532.56L473.05,534.39L474.56,536.21L476.06,538.01L477.56,539.79L479.07,541.55L480.57,543.30L482.07,545.03L483.58,546.74L485.08,548.43L486.58,550.11L488.09,551.77L489.59,553.41L491.09,555.04L492.60,556.65L494.10,558.24L495.60,559.82L497.11,561.38L498.61,562.92L500.11,564.45L501.62,565.96L503.12,567.45L504.62,568.93L506.13,570.40L507.63,571.85L509.13,573.28L510.64,574.70L512.14,576.10L513.64,577.49L515.14,578.86L516.65,580.21L518.15,581.56L519.65,582.88L521.16,584.20L522.66,585.50L524.16,586.78L525.67,588.05L527.17,589.31L528.67,590.55L530.18,591.78L531.68,592.99L533.18,594.19L534.69,595.38L536.19,596.55L537.69,597.71L539.20,598.86L540.70,599.99L542.20,601.11L543.71,602.22L545.21,603.31L546.71,604.40L548.22,605.47L549.72,606.52L551.22,607.57L552.73,608.60L554.23,609.62L555.73,610.63L557.24,611.63L558.74,612.61L560.24,613.58L561.75,614.55L563.25,615.50L564.75,616.44L566.26,617.36L567.76,618.28L569.26,619.19L570.77,620.08L572.27,620.97L573.77,621.84L575.28,622.70L576.78,623.55L578.28,624.40L579.79,625.23L581.29,626.05L582.79,626.86L584.30,627.67L585.80,628.46L587.30,629.24L588.81,630.01L590.31,630.78L591.81,631.53L593.32,632.28L594.82,633.01L596.32,633.74L597.83,634.46L599.33,635.17L600.83,635.87L602.34,636.56L603.84,637.25L605.34,637.92L606.85,638.59L608.35,639.25L609.85,639.90L611.36,640.55L612.86,641.18L614.36,641.81L615.87,642.43L617.37,643.04L618.87,643.65L620.38,644.25L621.88,644.84L623.38,645.42L624.89,646.00L626.39,646.56L627.89,647.12L629.40,647.68L630.90,648.22L632.40,648.76L633.91,649.30L635.41,649.82L636.91,650.34L638.42,650.85L639.92,651.36L641.42,651.86L642.93,652.35L644.43,652.84L645.93,653.32L647.44,653.79L648.94,654.26L650.44,654.72L651.95,655.17L653.45,655.62L654.95,656.07L656.46,656.50L657.96,656.93L659.46,657.36L660.97,657.78L662.47,658.19L663.97,658.60L665.48,659.00L666.98,659.40L668.48,659.79L669.99,660.18L671.49,660.56L672.99,660.94L674.50,661.31L676.00,661.68L677.50,662.04L679.01,662.40L680.51,662.75L682.01,663.09L683.52,663.44L685.02,663.77L686.52,664.11L688.03,664.44L689.53,664.76L691.03,665.08L692.54,665.39L694.04,665.71L695.54,666.01L697.05,666.32L698.55,666.62L700.05,666.91L701.56,667.20L703.06,667.49L704.56,667.77L706.07,668.05L707.57,668.33L709.07,668.60L710.58,668.87L712.08,669.14L713.58,669.40L715.09,669.66L716.59,669.92L718.09,670.17L719.60,670.42L721.10,670.67L722.60,670.91L724.11,671.15L725.61,671.39L727.11,671.63L728.62,671.86L730.12,672.09L731.62,672.32L733.13,672.55L734.63,672.77L736.13,672.99L737.64,673.21L739.14,673.43L740.64,673.64L742.15,673.85L743.65,674.06L745.15,674.27L746.66,674.48L748.16,674.68L749.66,674.88L751.17,675.08L752.67,675.28L754.17,675.48L755.68,675.67L757.18,675.86L758.68,676.05L760.19,676.24L761.69,676.43L763.19,676.61L764.70,676.79L766.20,676.97L767.70,677.15L769.21,677.33L770.71,677.50L772.21,677.67L773.72,677.85L775.22,678.01L776.72,678.18L778.23,678.35L779.73,678.51L781.23,678.67L782.74,678.83L784.24,678.99L785.74,679.14L787.25,679.30L788.75,679.45L790.25,679.60L791.76,679.75L793.26,679.90L794.76,680.04L796.27,680.18L797.77,680.33L799.27,680.47L800.78,680.60L802.28,680.74L803.78,680.88L805.29,681.01L806.79,681.14L808.29,681.27L809.80,681.40L811.30,681.53L812.80,681.65L814.31,681.78L815.81,681.90L817.31,682.02L818.82,682.14L820.32,682.26L821.82,682.37L823.33,682.49L824.83,682.60L826.33,682.71L827.84,682.82L829.34,682.93L830.84,683.04L832.35,683.14L833.85,683.25L835.35,683.35L836.86,683.45L838.36,683.55L839.86,683.65L841.37,683.75L842.87,683.84L844.37,683.94L845.88,684.03L847.38,684.12L848.88,684.21L850.39,684.30L851.89,684.39L853.39,684.48L854.90,684.56L856.40,684.65L857.90,684.73L859.41,684.81L860.91,684.89L862.41,684.97L863.92,685.05L865.42,685.12L866.92,685.20L868.43,685.27L869.93,685.35L871.43,685.42L872.94,685.49L874.44,685.56L875.94,685.63L877.45,685.70L878.95,685.76L880.45,685.83L881.96,685.89L883.46,685.95L884.96,686.02L886.47,686.08L887.97,686.14L889.47,686.20L890.98,686.25L892.48,686.31L893.98,686.37L895.49,686.42L896.99,686.48L898.49,686.53L900.00,686.58L901.50,686.63L903.00,686.68L904.51,686.73L906.01,686.78L907.51,686.83L909.02,686.88L910.52,686.92L912.02,686.97L913.53,687.01L915.03,687.05L916.53,687.10L918.04,687.14L919.54,687.18L921.04,687.22L922.55,687.26L924.05,687.30L925.55,687.33L927.06,687.37" fill="none" stroke="#ff0000" stroke-width="3.72" stroke-linejoin="round" stroke-linecap="square"/>
<g fill="#ff0000" stroke="#ff0000" stroke-width="1.81" stroke-linejoin="miter"><path d="M97.92,92.63L108.78,92.63L103.35,103.49Z"/><path d="M151.92,107.36L162.78,107.36L157.35,118.22Z"/><path d="M206.75,157.29L217.61,157.29L212.18,168.15Z"/><path d="M259.66,215.97L270.52,215.97L265.09,226.83Z"/><path d="M314.21,275.76L325.07,275.76L319.64,286.62Z"/><path d="M368.22,370.09L379.08,370.09L373.65,380.95Z"/><path d="M419.77,461.35L430.63,461.35L425.20,472.21Z"/><path d="M474.59,537.47L485.45,537.47L480.02,548.33Z"/><path d="M529.41,589.97L540.27,589.97L534.84,600.83Z"/><path d="M583.42,624.64L594.27,624.64L588.85,635.50Z"/><path d="M638.51,647.14L649.37,647.14L643.94,658.00Z"/><path d="M685.70,659.87L696.56,659.87L691.13,670.73Z"/><path d="M740.25,668.83L751.11,668.83L745.68,679.69Z"/><path d="M796.16,675.18L807.02,675.18L801.59,686.04Z"/><path d="M850.71,679.27L861.57,679.27L856.14,690.13Z"/><path d="M905.26,681.52L916.12,681.52L910.69,692.38Z"/></g>
<path d="M103.35,691.45L147.26,691.45L148.90,685.52L157.35,674.88L158.86,673.07L160.36,671.31L161.86,669.58L163.37,667.89L164.87,666.23L166.37,664.62L167.88,663.03L169.38,661.48L170.88,659.96L172.39,658.47L173.89,657.01L175.39,655.58L176.90,654.18L178.40,652.81L179.90,651.46L181.41,650.14L182.91,648.84L184.41,647.56L185.92,646.31L187.42,645.07L188.92,643.86L190.43,642.66L191.93,641.49L193.43,640.33L194.94,639.18L196.44,638.05L197.94,636.93L199.45,635.83L200.95,634.74L202.45,633.66L203.96,632.59L205.46,631.52L206.96,630.47L208.47,629.42L209.97,628.38L211.47,627.34L212.98,626.30L214.48,625.27L215.98,624.24L217.49,623.22L218.99,622.21L220.49,621.20L222.00,620.21L223.50,619.22L225.00,618.24L226.51,617.27L228.01,616.32L229.51,615.38L231.02,614.46L232.52,613.55L234.02,612.66L235.53,611.79L237.03,610.94L238.53,610.10L240.04,609.29L241.54,608.50L243.04,607.74L244.55,606.99L246.05,606.28L247.55,605.59L249.06,604.92L250.56,604.29L252.06,603.68L253.57,603.11L255.07,602.57L256.57,602.06L258.08,601.58L259.58,601.14L261.08,600.73L262.59,600.36L264.09,600.03L265.59,599.74L267.10,599.49L268.60,599.29L270.10,599.15L271.61,599.06L273.11,599.04L274.61,599.09L276.12,599.22L277.62,599.43L279.12,599.72L280.63,600.11L282.13,600.59L283.63,601.16L285.14,601.82L286.64,602.56L288.14,603.38L289.65,604.26L291.15,605.20L292.65,606.20L294.16,607.24L295.66,608.32L297.16,609.44L298.67,610.58L300.17,611.74L301.67,612.92L303.18,614.10L304.68,615.29L306.18,616.46L307.69,617.63L309.19,618.77L310.69,619.89L312.20,620.98L313.70,622.03L315.20,623.03L316.71,623.98L318.21,624.87L319.71,625.70L321.22,626.47L322.72,627.19L324.22,627.86L325.73,628.50L327.23,629.12L328.73,629.72L330.24,630.30L331.74,630.88L333.24,631.45L334.75,632.01L336.25,632.57L337.75,633.12L339.26,633.66L340.76,634.20L342.26,634.74L343.77,635.26L345.27,635.79L346.77,636.30L348.28,636.81L349.78,637.32L351.28,637.82L352.79,638.32L354.29,638.81L355.79,639.29L357.30,639.77L358.80,640.25L360.30,640.72L361.81,641.19L363.31,641.65L364.81,642.11L366.32,642.56L367.82,643.01L369.32,643.46L370.83,643.90L372.33,644.34L373.83,644.77L375.34,645.20L376.84,645.63L378.34,646.06L379.85,646.48L381.35,646.89L382.85,647.31L384.36,647.72L385.86,648.13L387.36,648.53L388.87,648.94L390.37,649.34L391.87,649.74L393.38,650.13L394.88,650.53L396.38,650.92L397.89,651.31L399.39,651.69L400.89,652.08L402.40,652.46L403.90,652.84L405.40,653.22L406.91,653.59L408.41,653.97L409.91,654.34L411.42,654.71L412.92,655.07L414.42,655.44L415.93,655.80L417.43,656.16L418.93,656.52L420.44,656.87L421.94,657.22L423.44,657.58L424.95,657.92L426.45,658.27L427.95,658.61L429.46,658.96L430.96,659.30L432.46,659.63L433.97,659.97L435.47,660.30L436.97,660.63L438.48,660.96L439.98,661.28L441.48,661.61L442.99,661.93L444.49,662.25L445.99,662.57L447.50,662.88L449.00,663.19L450.50,663.50L452.01,663.81L453.51,664.12L455.01,664.42L456.52,664.72L458.02,665.02L459.52,665.32L461.03,665.62L462.53,665.91L464.03,666.20L465.54,666.49L467.04,666.77L468.54,667.06L470.05,667.34L471.55,667.62L473.05,667.90L474.56,668.17L476.06,668.45L477.56,668.72L479.07,668.98L480.57,669.25L482.07,669.52L483.58,669.78L485.08,670.04L486.58,670.29L488.09,670.55L489.59,670.80L491.09,671.05L492.60,671.30L494.10,671.55L495.60,671.79L497.11,672.04L498.61,672.28L500.11,672.52L501.62,672.75L503.12,672.98L504.62,673.22L506.13,673.45L507.63,673.67L509.13,673.90L510.64,674.12L512.14,674.34L513.64,674.56L515.14,674.78L516.65,674.99L518.15,675.20L519.65,675.41L521.16,675.62L522.66,675.83L524.16,676.03L525.67,676.23L527.17,676.43L528.67,676.63L530.18,676.82L531.68,677.02L533.18,677.21L534.69,677.39L536.19,677.58L537.69,677.77L539.20,677.95L540.70,678.13L542.20,678.30L543.71,678.48L545.21,678.65L546.71,678.82L548.22,678.98L549.72,679.15L551.22,679.31L552.73,679.46L554.23,679.62L555.73,679.77L557.24,679.92L558.74,680.06L560.24,680.20L561.75,680.34L563.25,680.47L564.75,680.60L566.26,680.73L567.76,680.85L569.26,680.97L570.77,681.09L572.27,681.20L573.77,681.31L575.28,681.41L576.78,681.52L578.28,681.62L579.79,681.72L581.29,681.81L582.79,681.91L584.30,682.00L585.80,682.08L587.30,682.17L588.81,682.25L590.31,682.34L591.81,682.42L593.32,682.49L594.82,682.57L596.32,682.65L597.83,682.72L599.33,682.79L600.83,682.86L602.34,682.93L603.84,683.00L605.34,683.07L606.85,683.14L608.35,683.20L609.85,683.27L611.36,683.33L612.86,683.40L614.36,683.46L615.87,683.52L617.37,683.59L618.87,683.65L620.38,683.72L621.88,683.78L623.38,683.84L624.89,683.91L626.39,683.97L627.89,684.04L629.40,684.10L630.90,684.17L632.40,684.24L633.91,684.31L635.41,684.38L636.91,684.45L638.42,684.52L639.92,684.59L641.42,684.67L642.93,684.75L644.43,684.82L645.93,684.90L647.44,684.99L648.94,685.07L650.44,685.15L651.95,685.24L653.45,685.32L654.95,685.41L656.46,685.50L657.96,685.59L659.46,685.67L660.97,685.76L662.47,685.85L663.97,685.94L665.48,686.03L666.98,686.12L668.48,686.20L669.99,686.29L671.49,686.38L672.99,686.46L674.50,686.55L676.00,686.63L677.50,686.71L679.01,686.79L680.51,686.87L682.01,686.95L683.52,687.02L685.02,687.10L686.52,687.17L688.03,687.23L689.53,687.30L691.03,687.36L692.54,687.42L694.04,687.48L695.54,687.54L697.05,687.59L698.55,687.64L700.05,687.69L701.56,687.73L703.06,687.78L704.56,687.82L706.07,687.86L707.57,687.90L709.07,687.93L710.58,687.97L712.08,688.00L713.58,688.03L715.09,688.06L716.59,688.09L718.09,688.11L719.60,688.14L721.10,688.16L722.60,688.19L724.11,688.21L725.61,688.23L727.11,688.26L728.62,688.28L730.12,688.30L731.62,688.32L733.13,688.34L734.63,688.36L736.13,688.38L737.64,688.39L739.14,688.41L740.64,688.43L742.15,688.45L743.65,688.47L745.15,688.49L746.66,688.51L748.16,688.54L749.66,688.56L751.17,688.58L752.67,688.60L754.17,688.63L755.68,688.65L757.18,688.68L758.68,688.70L760.19,688.73L761.69,688.75L763.19,688.78L764.70,688.80L766.20,688.83L767.70,688.86L769.21,688.88L770.71,688.91L772.21,688.94L773.72,688.97L775.22,688.99L776.72,689.02L778.23,689.05L779.73,689.08L781.23,689.11L782.74,689.14L784.24,689.17L785.74,689.20L787.25,689.23L788.75,689.26L790.25,689.29L791.76,689.31L793.26,689.34L794.76,689.37L796.27,689.40L797.77,689.43L799.27,689.46L800.78,689.49L802.28,689.52L803.78,689.55L805.29,689.58L806.79,689.61L808.29,689.64L809.80,689.67L811.30,689.70L812.80,689.73L814.31,689.75L815.81,689.78L817.31,689.81L818.82,689.84L820.32,689.87L821.82,689.90L823.33,689.92L824.83,689.95L826.33,689.98L827.84,690.01L829.34,690.03L830.84,690.06L832.35,690.09L833.85,690.11L835.35,690.14L836.86,690.16L838.36,690.19L839.86,690.22L841.37,690.24L842.87,690.27L844.37,690.29L845.88,690.32L847.38,690.34L848.88,690.36L850.39,690.39L851.89,690.41L853.39,690.43L854.90,690.46L856.40,690.48L857.90,690.50L859.41,690.52L860.91,690.54L862.41,690.56L863.92,690.58L865.42,690.60L866.92,690.62L868.43,690.64L869.93,690.66L871.43,690.68L872.94,690.70L874.44,690.72L875.94,690.73L877.45,690.75L878.95,690.77L880.45,690.78L881.96,690.80L883.46,690.81L884.96,690.83L886.47,690.84L887.97,690.86L889.47,690.87L890.98,690.88L892.48,690.90L893.98,690.91L895.49,690.92L896.99,690.93L898.49,690.94L900.00,690.95L901.50,690.96L903.00,690.97L904.51,690.98L906.01,690.98L907.51,690.99L909.02,691.00L910.52,691.00L912.02,691.01L913.53,691.01L915.03,691.02L916.53,691.02L918.04,691.02L919.54,691.03L921.04,691.03L922.55,691.03L924.05,691.03L925.55,691.03L927.06,691.03" fill="none" stroke="#ff0000" stroke-width="3.72" stroke-dasharray="3.52 5.81" stroke-dashoffset="0.00" stroke-linejoin="round" stroke-linecap="butt"/>
<g fill="#ff0000" stroke="#ff0000" stroke-width="1.81" stroke-linejoin="miter"><path d="M97.92,686.02L108.78,686.02L103.35,696.88Z"/><path d="M151.92,669.45L162.78,669.45L157.35,680.31Z"/><path d="M206.75,621.36L217.61,621.36L212.18,632.22Z"/><path d="M258.57,594.56L269.43,594.56L264.00,605.42Z"/><path d="M312.85,619.52L323.71,619.52L318.28,630.38Z"/><path d="M367.94,639.16L378.80,639.16L373.37,650.02Z"/><path d="M419.77,652.46L430.63,652.46L425.20,663.32Z"/><path d="M474.31,663.92L485.18,663.92L479.75,674.78Z"/><path d="M528.87,671.70L539.72,671.70L534.29,682.56Z"/><path d="M583.42,677.02L594.27,677.02L588.85,687.88Z"/><path d="M638.24,679.27L649.10,679.27L643.67,690.13Z"/><path d="M685.70,681.97L696.56,681.97L691.13,692.83Z"/><path d="M740.25,683.07L751.11,683.07L745.68,693.93Z"/><path d="M796.16,684.06L807.02,684.06L801.59,694.92Z"/><path d="M850.71,685.08L861.57,685.08L856.14,695.94Z"/><path d="M905.26,685.53L916.12,685.53L910.69,696.39Z"/></g>
</g>
<rect x="103.35" y="77.60" width="818.25" height="613.85" fill="none" stroke="#000" stroke-width="1.45" stroke-linejoin="miter"/>
<path d="M103.35,691.45V697.79M239.72,691.45V697.79M376.10,691.45V697.79M512.48,691.45V697.79M648.85,691.45V697.79M785.23,691.45V697.79M921.60,691.45V697.79M103.35,691.45H97.02M103.35,609.60H97.02M103.35,527.76H97.02M103.35,445.91H97.02M103.35,364.06H97.02M103.35,282.22H97.02M103.35,200.37H97.02M103.35,118.52H97.02" stroke="#000" stroke-width="1.45" fill="none"/>
<text x="103.35" y="721.6" font-size="25.20" text-anchor="middle">0</text>
<text x="239.72" y="721.6" font-size="25.20" text-anchor="middle">50</text>
<text x="376.10" y="721.6" font-size="25.20" text-anchor="middle">100</text>
<text x="512.48" y="721.6" font-size="25.20" text-anchor="middle">150</text>
<text x="648.85" y="721.6" font-size="25.20" text-anchor="middle">200</text>
<text x="785.23" y="721.6" font-size="25.20" text-anchor="middle">250</text>
<text x="921.60" y="721.6" font-size="25.20" text-anchor="middle">300</text>
<text x="90.5" y="699.85" font-size="25.20" text-anchor="end">0</text>
<text x="90.5" y="618.00" font-size="25.20" text-anchor="end">2</text>
<text x="90.5" y="536.16" font-size="25.20" text-anchor="end">4</text>
<text x="90.5" y="454.31" font-size="25.20" text-anchor="end">6</text>
<text x="90.5" y="372.46" font-size="25.20" text-anchor="end">8</text>
<text x="90.5" y="290.62" font-size="25.20" text-anchor="end">10</text>
<text x="90.5" y="208.77" font-size="25.20" text-anchor="end">12</text>
<text x="90.5" y="126.92" font-size="25.20" text-anchor="end">14</text>
<text x="512.5" y="757.0" font-size="32.40" text-anchor="middle">Time [ms]</text>
<text x="0" y="0" font-size="32.40" text-anchor="middle" transform="translate(51.2,384.6) rotate(-90)">Current [kA]</text>
<rect x="469.90" y="86.60" width="443.00" height="110.70" rx="3" ry="3" fill="#fff" stroke="#d6d6d6" stroke-width="1.81"/>
<path d="M475.2,107.40H514.8" stroke="#000000" stroke-width="3.72" stroke-linecap="butt"/>
<g fill="#fff" stroke="#000000" stroke-width="1.81"><circle cx="495.00" cy="107.40" r="5.43"/></g>
<text x="527.3" y="113.20" font-size="29.00">C1: 2 active ESC</text>
<path d="M475.2,142.55H514.8" stroke="#008000" stroke-width="3.72" stroke-linecap="butt"/>
<g fill="#008000" stroke="#008000" stroke-width="1.81"><rect x="489.57" y="137.12" width="10.86" height="10.86"/></g>
<text x="527.3" y="148.35" font-size="29.00">F1: 1 active ESC, 1 passive ESC</text>
<path d="M475.2,177.70H514.8" stroke="#ff0000" stroke-width="3.72" stroke-linecap="butt"/>
<g fill="#ff0000" stroke="#ff0000" stroke-width="1.81"><path d="M489.57,172.27L500.43,172.27L495.00,183.13Z"/></g>
<text x="527.3" y="183.50" font-size="29.00">F2: 1 active ESC, 1 broken ESC</text>
</svg></body></html>
